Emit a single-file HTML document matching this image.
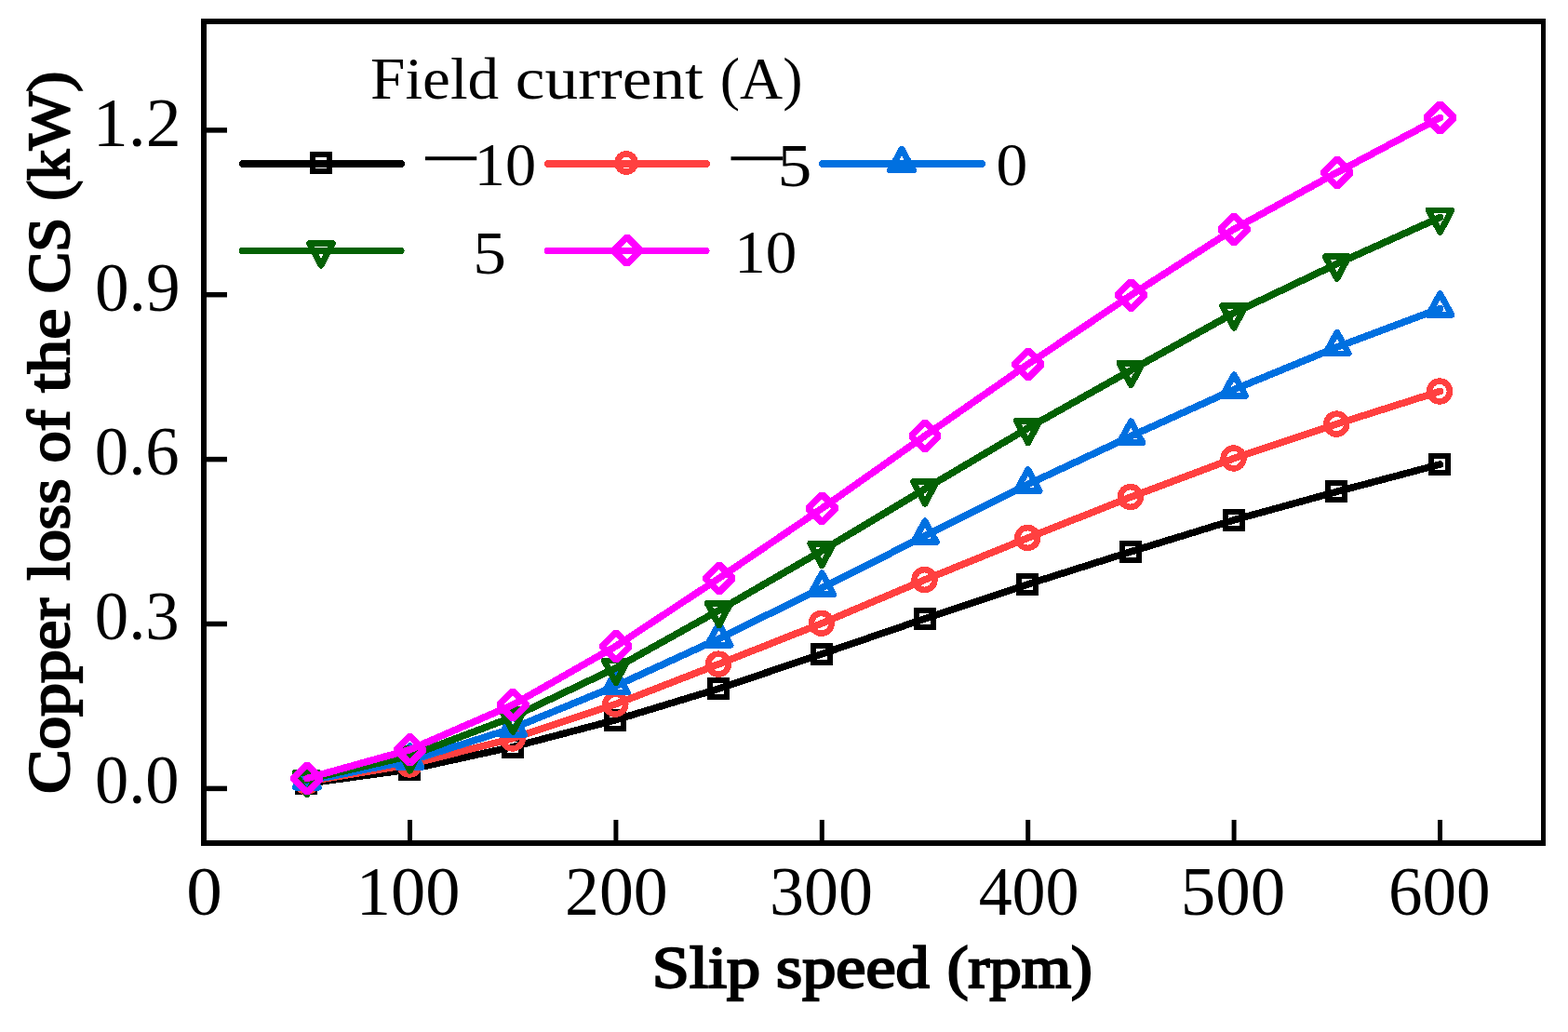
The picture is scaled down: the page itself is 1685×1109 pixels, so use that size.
<!DOCTYPE html>
<html><head><meta charset="utf-8"><title>Copper loss of the CS</title>
<style>html,body{margin:0;padding:0;background:#fff;overflow:hidden;}svg{display:block;}text{font-family:"Liberation Serif","DejaVu Serif",serif;fill:#000;}</style></head><body>
<svg width="1685" height="1109" viewBox="0 0 1685 1109">
<rect width="1685" height="1109" fill="#fff"/>
<g shape-rendering="crispEdges">
<polyline points="329.8,842.0 440.5,826.8 551.2,802.6 661.9,773.6 772.6,740.0 883.3,702.7 994.0,664.8 1104.7,627.8 1215.4,592.8 1326.1,558.8 1436.8,528.3 1547.5,499.0" fill="none" stroke="#000000" stroke-width="7.6" stroke-linejoin="round" stroke-linecap="round"/>
<rect x="320.3" y="833.0" width="18" height="18" fill="none" stroke="#000000" stroke-width="6"/>
<rect x="431.0" y="817.8" width="18" height="18" fill="none" stroke="#000000" stroke-width="6"/>
<rect x="541.7" y="793.6" width="18" height="18" fill="none" stroke="#000000" stroke-width="6"/>
<rect x="652.4" y="764.6" width="18" height="18" fill="none" stroke="#000000" stroke-width="6"/>
<rect x="763.1" y="731.0" width="18" height="18" fill="none" stroke="#000000" stroke-width="6"/>
<rect x="873.8" y="693.7" width="18" height="18" fill="none" stroke="#000000" stroke-width="6"/>
<rect x="984.5" y="655.8" width="18" height="18" fill="none" stroke="#000000" stroke-width="6"/>
<rect x="1095.2" y="618.8" width="18" height="18" fill="none" stroke="#000000" stroke-width="6"/>
<rect x="1205.9" y="583.8" width="18" height="18" fill="none" stroke="#000000" stroke-width="6"/>
<rect x="1316.6" y="549.8" width="18" height="18" fill="none" stroke="#000000" stroke-width="6"/>
<rect x="1427.3" y="519.3" width="18" height="18" fill="none" stroke="#000000" stroke-width="6"/>
<rect x="1538.0" y="490.0" width="18" height="18" fill="none" stroke="#000000" stroke-width="6"/>
<polyline points="329.8,840.0 440.5,821.5 551.2,793.5 661.9,756.6 772.6,713.6 883.3,669.8 994.0,623.0 1104.7,578.0 1215.4,534.0 1326.1,492.5 1436.8,455.6 1547.5,420.5" fill="none" stroke="#FF4040" stroke-width="7.6" stroke-linejoin="round" stroke-linecap="round"/>
<circle cx="329.3" cy="840.0" r="10.9" fill="none" stroke="#FF4040" stroke-width="6.6"/>
<circle cx="440.0" cy="821.5" r="10.9" fill="none" stroke="#FF4040" stroke-width="6.6"/>
<circle cx="550.7" cy="793.5" r="10.9" fill="none" stroke="#FF4040" stroke-width="6.6"/>
<circle cx="661.4" cy="756.6" r="10.9" fill="none" stroke="#FF4040" stroke-width="6.6"/>
<circle cx="772.1" cy="713.6" r="10.9" fill="none" stroke="#FF4040" stroke-width="6.6"/>
<circle cx="882.8" cy="669.8" r="10.9" fill="none" stroke="#FF4040" stroke-width="6.6"/>
<circle cx="993.5" cy="623.0" r="10.9" fill="none" stroke="#FF4040" stroke-width="6.6"/>
<circle cx="1104.2" cy="578.0" r="10.9" fill="none" stroke="#FF4040" stroke-width="6.6"/>
<circle cx="1214.9" cy="534.0" r="10.9" fill="none" stroke="#FF4040" stroke-width="6.6"/>
<circle cx="1325.6" cy="492.5" r="10.9" fill="none" stroke="#FF4040" stroke-width="6.6"/>
<circle cx="1436.3" cy="455.6" r="10.9" fill="none" stroke="#FF4040" stroke-width="6.6"/>
<circle cx="1547.0" cy="420.5" r="10.9" fill="none" stroke="#FF4040" stroke-width="6.6"/>
<polyline points="329.8,839.3 440.5,817.6 551.2,782.6 661.9,737.1 772.6,686.3 883.3,631.8 994.0,575.8 1104.7,520.5 1215.4,468.7 1326.1,418.6 1436.8,373.0 1547.5,331.5" fill="none" stroke="#0070E0" stroke-width="7.6" stroke-linejoin="round" stroke-linecap="round"/>
<path d="M329.8 823.4 L342.3 846.2 L317.3 846.2 Z" fill="none" stroke="#0070E0" stroke-width="6.8" stroke-linejoin="round"/>
<path d="M440.5 801.7 L453.0 824.5 L428.0 824.5 Z" fill="none" stroke="#0070E0" stroke-width="6.8" stroke-linejoin="round"/>
<path d="M551.2 766.7 L563.7 789.5 L538.7 789.5 Z" fill="none" stroke="#0070E0" stroke-width="6.8" stroke-linejoin="round"/>
<path d="M661.9 721.2 L674.4 744.0 L649.4 744.0 Z" fill="none" stroke="#0070E0" stroke-width="6.8" stroke-linejoin="round"/>
<path d="M772.6 670.4 L785.1 693.2 L760.1 693.2 Z" fill="none" stroke="#0070E0" stroke-width="6.8" stroke-linejoin="round"/>
<path d="M883.3 615.9 L895.8 638.7 L870.8 638.7 Z" fill="none" stroke="#0070E0" stroke-width="6.8" stroke-linejoin="round"/>
<path d="M994.0 559.9 L1006.5 582.7 L981.5 582.7 Z" fill="none" stroke="#0070E0" stroke-width="6.8" stroke-linejoin="round"/>
<path d="M1104.7 504.6 L1117.2 527.4 L1092.2 527.4 Z" fill="none" stroke="#0070E0" stroke-width="6.8" stroke-linejoin="round"/>
<path d="M1215.4 452.8 L1227.9 475.6 L1202.9 475.6 Z" fill="none" stroke="#0070E0" stroke-width="6.8" stroke-linejoin="round"/>
<path d="M1326.1 402.7 L1338.6 425.5 L1313.6 425.5 Z" fill="none" stroke="#0070E0" stroke-width="6.8" stroke-linejoin="round"/>
<path d="M1436.8 357.1 L1449.3 379.9 L1424.3 379.9 Z" fill="none" stroke="#0070E0" stroke-width="6.8" stroke-linejoin="round"/>
<path d="M1547.5 315.6 L1560.0 338.4 L1535.0 338.4 Z" fill="none" stroke="#0070E0" stroke-width="6.8" stroke-linejoin="round"/>
<polyline points="329.8,837.8 440.5,812.3 551.2,770.5 661.9,717.7 772.6,655.9 883.3,591.8 994.0,525.4 1104.7,460.0 1215.4,397.8 1326.1,336.3 1436.8,283.5 1547.5,233.6" fill="none" stroke="#046104" stroke-width="7.6" stroke-linejoin="round" stroke-linecap="round"/>
<path d="M329.8 853.7 L342.3 830.1 L317.3 830.1 Z" fill="none" stroke="#046104" stroke-width="6.8" stroke-linejoin="round"/>
<path d="M440.5 828.2 L453.0 804.6 L428.0 804.6 Z" fill="none" stroke="#046104" stroke-width="6.8" stroke-linejoin="round"/>
<path d="M551.2 786.4 L563.7 762.8 L538.7 762.8 Z" fill="none" stroke="#046104" stroke-width="6.8" stroke-linejoin="round"/>
<path d="M661.9 733.6 L674.4 710.0 L649.4 710.0 Z" fill="none" stroke="#046104" stroke-width="6.8" stroke-linejoin="round"/>
<path d="M772.6 671.8 L785.1 648.2 L760.1 648.2 Z" fill="none" stroke="#046104" stroke-width="6.8" stroke-linejoin="round"/>
<path d="M883.3 607.7 L895.8 584.1 L870.8 584.1 Z" fill="none" stroke="#046104" stroke-width="6.8" stroke-linejoin="round"/>
<path d="M994.0 541.3 L1006.5 517.7 L981.5 517.7 Z" fill="none" stroke="#046104" stroke-width="6.8" stroke-linejoin="round"/>
<path d="M1104.7 475.9 L1117.2 452.3 L1092.2 452.3 Z" fill="none" stroke="#046104" stroke-width="6.8" stroke-linejoin="round"/>
<path d="M1215.4 413.7 L1227.9 390.1 L1202.9 390.1 Z" fill="none" stroke="#046104" stroke-width="6.8" stroke-linejoin="round"/>
<path d="M1326.1 352.2 L1338.6 328.6 L1313.6 328.6 Z" fill="none" stroke="#046104" stroke-width="6.8" stroke-linejoin="round"/>
<path d="M1436.8 299.4 L1449.3 275.8 L1424.3 275.8 Z" fill="none" stroke="#046104" stroke-width="6.8" stroke-linejoin="round"/>
<path d="M1547.5 249.5 L1560.0 225.9 L1535.0 225.9 Z" fill="none" stroke="#046104" stroke-width="6.8" stroke-linejoin="round"/>
<polyline points="329.8,836.5 440.5,805.6 551.2,757.4 661.9,694.4 772.6,621.5 883.3,546.3 994.0,468.3 1104.7,391.4 1215.4,317.2 1326.1,246.2 1436.8,185.3 1547.5,126.5" fill="none" stroke="#FF00FF" stroke-width="7.6" stroke-linejoin="round" stroke-linecap="round"/>
<path d="M329.8 821.6 L344.7 836.5 L329.8 851.4 L314.9 836.5 Z" fill="none" stroke="#FF00FF" stroke-width="7.3" stroke-linejoin="bevel"/>
<path d="M440.5 790.7 L455.4 805.6 L440.5 820.5 L425.6 805.6 Z" fill="none" stroke="#FF00FF" stroke-width="7.3" stroke-linejoin="bevel"/>
<path d="M551.2 742.5 L566.1 757.4 L551.2 772.3 L536.3 757.4 Z" fill="none" stroke="#FF00FF" stroke-width="7.3" stroke-linejoin="bevel"/>
<path d="M661.9 679.5 L676.8 694.4 L661.9 709.3 L647.0 694.4 Z" fill="none" stroke="#FF00FF" stroke-width="7.3" stroke-linejoin="bevel"/>
<path d="M772.6 606.6 L787.5 621.5 L772.6 636.4 L757.7 621.5 Z" fill="none" stroke="#FF00FF" stroke-width="7.3" stroke-linejoin="bevel"/>
<path d="M883.3 531.4 L898.2 546.3 L883.3 561.2 L868.4 546.3 Z" fill="none" stroke="#FF00FF" stroke-width="7.3" stroke-linejoin="bevel"/>
<path d="M994.0 453.4 L1008.9 468.3 L994.0 483.2 L979.1 468.3 Z" fill="none" stroke="#FF00FF" stroke-width="7.3" stroke-linejoin="bevel"/>
<path d="M1104.7 376.5 L1119.6 391.4 L1104.7 406.3 L1089.8 391.4 Z" fill="none" stroke="#FF00FF" stroke-width="7.3" stroke-linejoin="bevel"/>
<path d="M1215.4 302.3 L1230.3 317.2 L1215.4 332.1 L1200.5 317.2 Z" fill="none" stroke="#FF00FF" stroke-width="7.3" stroke-linejoin="bevel"/>
<path d="M1326.1 231.3 L1341.0 246.2 L1326.1 261.1 L1311.2 246.2 Z" fill="none" stroke="#FF00FF" stroke-width="7.3" stroke-linejoin="bevel"/>
<path d="M1436.8 170.4 L1451.7 185.3 L1436.8 200.2 L1421.9 185.3 Z" fill="none" stroke="#FF00FF" stroke-width="7.3" stroke-linejoin="bevel"/>
<path d="M1547.5 111.6 L1562.4 126.5 L1547.5 141.4 L1532.6 126.5 Z" fill="none" stroke="#FF00FF" stroke-width="7.3" stroke-linejoin="bevel"/>
</g>
<g stroke="#000"><line x1="216" y1="23" x2="1661" y2="23" stroke-width="6"/><line x1="216" y1="906" x2="1661" y2="906" stroke-width="6"/><line x1="219" y1="20" x2="219" y2="909" stroke-width="6"/><line x1="1658.5" y1="20" x2="1658.5" y2="909" stroke-width="5"/></g>
<line x1="219" y1="139.9" x2="244" y2="139.9" stroke="#000" stroke-width="5.5"/>
<line x1="219" y1="316.7" x2="244" y2="316.7" stroke="#000" stroke-width="5.5"/>
<line x1="219" y1="493.6" x2="244" y2="493.6" stroke="#000" stroke-width="5.5"/>
<line x1="219" y1="670.5" x2="244" y2="670.5" stroke="#000" stroke-width="5.5"/>
<line x1="219" y1="847.4" x2="244" y2="847.4" stroke="#000" stroke-width="5.5"/>
<line x1="440.5" y1="906" x2="440.5" y2="881" stroke="#000" stroke-width="5"/>
<line x1="661.9" y1="906" x2="661.9" y2="881" stroke="#000" stroke-width="5"/>
<line x1="883.3" y1="906" x2="883.3" y2="881" stroke="#000" stroke-width="5"/>
<line x1="1104.7" y1="906" x2="1104.7" y2="881" stroke="#000" stroke-width="5"/>
<line x1="1326.1" y1="906" x2="1326.1" y2="881" stroke="#000" stroke-width="5"/>
<line x1="1547.5" y1="906" x2="1547.5" y2="881" stroke="#000" stroke-width="5"/>
<text x="99.72" y="156.80" font-size="74" textLength="94.90" lengthAdjust="spacingAndGlyphs">1.2</text>
<text x="101.93" y="333.60" font-size="74" textLength="91.64" lengthAdjust="spacingAndGlyphs">0.9</text>
<text x="101.75" y="510.00" font-size="74" textLength="91.01" lengthAdjust="spacingAndGlyphs">0.6</text>
<text x="101.75" y="686.50" font-size="74" textLength="91.01" lengthAdjust="spacingAndGlyphs">0.3</text>
<text x="101.96" y="863.20" font-size="74" textLength="90.59" lengthAdjust="spacingAndGlyphs">0.0</text>
<text x="200.17" y="982.80" font-size="74" textLength="38.55" lengthAdjust="spacingAndGlyphs">0</text>
<text x="382.76" y="982.80" font-size="74" textLength="111.66" lengthAdjust="spacingAndGlyphs">100</text>
<text x="607.01" y="982.80" font-size="74" textLength="110.68" lengthAdjust="spacingAndGlyphs">200</text>
<text x="827.00" y="982.80" font-size="74" textLength="111.00" lengthAdjust="spacingAndGlyphs">300</text>
<text x="1051.63" y="982.80" font-size="74" textLength="107.99" lengthAdjust="spacingAndGlyphs">400</text>
<text x="1268.75" y="982.80" font-size="74" textLength="112.49" lengthAdjust="spacingAndGlyphs">500</text>
<text x="1492.04" y="982.80" font-size="74" textLength="109.63" lengthAdjust="spacingAndGlyphs">600</text>
<text x="398.07" y="105.90" font-size="63" textLength="138.08" lengthAdjust="spacingAndGlyphs">Field</text>
<text x="553.83" y="105.90" font-size="63" textLength="202.11" lengthAdjust="spacingAndGlyphs">current</text>
<text x="773.76" y="105.90" font-size="63" textLength="88.75" lengthAdjust="spacingAndGlyphs">(A)</text>
<text x="700.81" y="1060.80" font-size="63.5" stroke="#000" stroke-width="2.3" textLength="116.22" lengthAdjust="spacingAndGlyphs">Slip</text>
<text x="834.04" y="1060.80" font-size="63.5" stroke="#000" stroke-width="2.3" textLength="164.59" lengthAdjust="spacingAndGlyphs">speed</text>
<text x="1017.81" y="1060.80" font-size="63.5" stroke="#000" stroke-width="2.3" textLength="156.04" lengthAdjust="spacingAndGlyphs">(rpm)</text>
<text x="450.95" y="196.70" font-size="80" textLength="67.08" lengthAdjust="spacingAndGlyphs">−</text>
<text x="509.88" y="198.80" font-size="65" textLength="66.25" lengthAdjust="spacingAndGlyphs">10</text>
<text x="779.50" y="196.50" font-size="80" textLength="67.69" lengthAdjust="spacingAndGlyphs">−</text>
<text x="835.46" y="199.60" font-size="65" textLength="36.88" lengthAdjust="spacingAndGlyphs">5</text>
<text x="1070.52" y="199.00" font-size="65" textLength="33.78" lengthAdjust="spacingAndGlyphs">0</text>
<text x="508.30" y="294.00" font-size="65" textLength="35.75" lengthAdjust="spacingAndGlyphs">5</text>
<text x="789.21" y="292.80" font-size="65" textLength="67.05" lengthAdjust="spacingAndGlyphs">10</text>
<text transform="translate(74.40 852.92) rotate(-90)" x="0" y="0" font-size="63.5" stroke="#000" stroke-width="2.3" textLength="209.82" lengthAdjust="spacingAndGlyphs">Copper</text>
<text transform="translate(74.40 623.86) rotate(-90)" x="0" y="0" font-size="63.5" stroke="#000" stroke-width="2.3" textLength="109.44" lengthAdjust="spacingAndGlyphs">loss</text>
<text transform="translate(74.40 497.18) rotate(-90)" x="0" y="0" font-size="63.5" stroke="#000" stroke-width="2.3" textLength="56.43" lengthAdjust="spacingAndGlyphs">of</text>
<text transform="translate(74.40 421.81) rotate(-90)" x="0" y="0" font-size="63.5" stroke="#000" stroke-width="2.3" textLength="89.84" lengthAdjust="spacingAndGlyphs">the</text>
<text transform="translate(74.40 315.30) rotate(-90)" x="0" y="0" font-size="63.5" stroke="#000" stroke-width="2.3" textLength="81.50" lengthAdjust="spacingAndGlyphs">CS</text>
<text transform="translate(74.40 215.66) rotate(-90)" x="0" y="0" font-size="63.5" stroke="#000" stroke-width="2.3" textLength="138.69" lengthAdjust="spacingAndGlyphs">(kW)</text>
<g shape-rendering="crispEdges">
<line x1="261" y1="176" x2="431" y2="176" stroke="#000000" stroke-width="8" stroke-linecap="round"/>
<rect x="335.5" y="166.4" width="18" height="18" fill="none" stroke="#000000" stroke-width="6"/>
<line x1="589" y1="176" x2="759" y2="176" stroke="#FF4040" stroke-width="8" stroke-linecap="round"/>
<circle cx="673.0" cy="175.0" r="9.6" fill="none" stroke="#FF4040" stroke-width="6.6"/>
<line x1="884" y1="176" x2="1055" y2="176" stroke="#0070E0" stroke-width="8" stroke-linecap="round"/>
<path d="M969.0 160.1 L981.5 182.9 L956.5 182.9 Z" fill="none" stroke="#0070E0" stroke-width="6.8" stroke-linejoin="round"/>
<line x1="260.5" y1="269.5" x2="431" y2="269.5" stroke="#046104" stroke-width="7.2" stroke-linecap="round"/>
<path d="M345.0 285.1 L357.5 261.5 L332.5 261.5 Z" fill="none" stroke="#046104" stroke-width="6.8" stroke-linejoin="round"/>
<line x1="588.5" y1="269.5" x2="759" y2="269.5" stroke="#FF00FF" stroke-width="7.2" stroke-linecap="round"/>
<path d="M673.6 254.7 L688.1 269.2 L673.6 283.7 L659.1 269.2 Z" fill="none" stroke="#FF00FF" stroke-width="7.3" stroke-linejoin="bevel"/>
</g>
</svg></body></html>
